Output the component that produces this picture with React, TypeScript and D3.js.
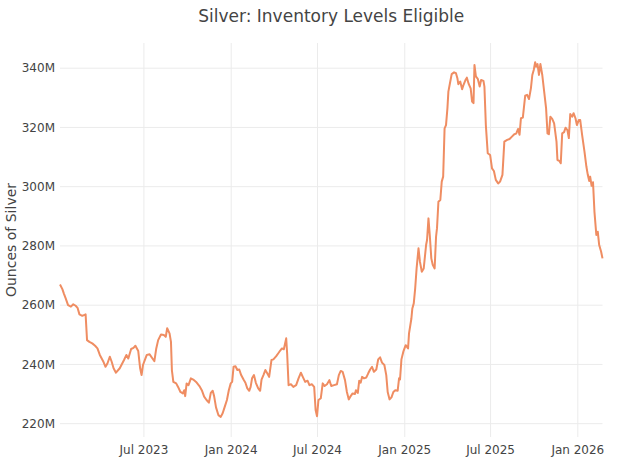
import React, { useRef, useEffect } from 'react';
import * as d3 from 'd3';

// Silver eligible inventory (COMEX), millions of troy ounces
const dates: string[] = [
  '2023-01-05', '2023-01-10', '2023-01-13', '2023-01-17', '2023-01-22', '2023-01-28',
  '2023-02-02', '2023-02-07', '2023-02-11', '2023-02-15', '2023-02-21', '2023-02-28',
  '2023-03-03', '2023-03-08', '2023-03-14', '2023-03-20', '2023-03-25', '2023-03-30',
  '2023-04-06', '2023-04-11', '2023-04-15', '2023-04-20', '2023-04-24', '2023-04-28',
  '2023-05-03', '2023-05-11', '2023-05-20', '2023-05-25', '2023-05-29',
  '2023-06-04', '2023-06-09', '2023-06-13', '2023-06-19', '2023-06-23', '2023-06-26', '2023-06-29',
  '2023-07-03', '2023-07-07', '2023-07-13', '2023-07-19', '2023-07-23', '2023-07-27', '2023-07-31',
  '2023-08-06', '2023-08-12', '2023-08-16', '2023-08-19', '2023-08-24', '2023-08-27', '2023-08-29',
  '2023-09-01', '2023-09-07', '2023-09-11', '2023-09-16', '2023-09-21', '2023-09-24', '2023-09-26', '2023-09-29',
  '2023-10-03', '2023-10-08', '2023-10-13', '2023-10-19', '2023-10-26', '2023-10-31',
  '2023-11-05', '2023-11-10', '2023-11-15', '2023-11-19', '2023-11-23', '2023-11-26', '2023-11-30',
  '2023-12-05', '2023-12-10', '2023-12-14', '2023-12-18', '2023-12-23', '2023-12-27', '2023-12-31',
  '2024-01-03', '2024-01-06', '2024-01-10', '2024-01-14', '2024-01-18', '2024-01-22', '2024-01-27', '2024-01-31',
  '2024-02-04', '2024-02-08', '2024-02-11', '2024-02-14', '2024-02-18', '2024-02-22', '2024-02-27',
  '2024-03-02', '2024-03-05', '2024-03-09', '2024-03-13', '2024-03-17', '2024-03-21', '2024-03-26', '2024-03-30',
  '2024-04-05', '2024-04-09', '2024-04-13', '2024-04-17', '2024-04-21', '2024-04-26', '2024-04-28',
  '2024-05-01', '2024-05-06', '2024-05-11', '2024-05-17', '2024-05-22', '2024-05-27', '2024-05-31',
  '2024-06-05', '2024-06-10', '2024-06-14', '2024-06-19', '2024-06-24', '2024-06-27', '2024-06-30',
  '2024-07-03', '2024-07-08', '2024-07-12', '2024-07-16', '2024-07-21', '2024-07-26', '2024-07-30',
  '2024-08-05', '2024-08-11', '2024-08-15', '2024-08-19', '2024-08-23', '2024-08-28',
  '2024-09-01', '2024-09-05', '2024-09-09', '2024-09-13', '2024-09-18', '2024-09-20', '2024-09-24', '2024-09-27', '2024-09-30',
  '2024-10-03', '2024-10-07', '2024-10-12', '2024-10-16', '2024-10-20', '2024-10-24', '2024-10-28',
  '2024-11-02', '2024-11-06', '2024-11-10', '2024-11-14', '2024-11-19', '2024-11-23', '2024-11-26', '2024-11-30',
  '2024-12-04', '2024-12-08', '2024-12-12', '2024-12-17', '2024-12-20', '2024-12-22', '2024-12-25', '2024-12-29',
  '2025-01-03', '2025-01-08', '2025-01-10', '2025-01-15', '2025-01-17', '2025-01-20', '2025-01-23', '2025-01-26', '2025-01-30',
  '2025-02-02', '2025-02-06', '2025-02-10', '2025-02-15', '2025-02-17', '2025-02-20', '2025-02-23', '2025-02-26',
  '2025-03-01', '2025-03-05', '2025-03-08', '2025-03-10', '2025-03-13', '2025-03-17', '2025-03-20', '2025-03-23', '2025-03-26', '2025-03-29',
  '2025-04-01', '2025-04-03', '2025-04-07', '2025-04-10', '2025-04-15', '2025-04-19', '2025-04-22', '2025-04-24', '2025-04-28',
  '2025-05-02', '2025-05-05', '2025-05-09', '2025-05-12', '2025-05-16', '2025-05-20', '2025-05-23', '2025-05-26', '2025-05-28', '2025-05-31',
  '2025-06-04', '2025-06-08', '2025-06-11', '2025-06-16', '2025-06-18', '2025-06-21', '2025-06-25', '2025-06-30',
  '2025-07-04', '2025-07-08', '2025-07-12', '2025-07-17', '2025-07-21', '2025-07-26', '2025-07-30',
  '2025-08-05', '2025-08-10', '2025-08-15', '2025-08-20', '2025-08-24', '2025-08-28', '2025-08-31',
  '2025-09-03', '2025-09-07', '2025-09-12', '2025-09-16', '2025-09-20', '2025-09-24', '2025-09-27', '2025-09-30',
  '2025-10-03', '2025-10-05', '2025-10-08', '2025-10-11', '2025-10-14', '2025-10-18', '2025-10-22', '2025-10-26', '2025-10-29',
  '2025-11-01', '2025-11-04', '2025-11-08', '2025-11-12', '2025-11-17', '2025-11-19', '2025-11-23', '2025-11-26', '2025-11-29',
  '2025-12-03', '2025-12-06', '2025-12-10', '2025-12-13', '2025-12-16', '2025-12-20', '2025-12-23', '2025-12-27', '2025-12-30',
  '2026-01-03', '2026-01-06', '2026-01-10', '2026-01-15', '2026-01-19', '2026-01-22', '2026-01-25', '2026-01-27', '2026-01-30',
  '2026-02-02', '2026-02-05', '2026-02-09', '2026-02-12', '2026-02-15', '2026-02-19', '2026-02-22',
];

const ounces: number[] = [
  267.0, 265.4, 264.0, 262.3, 260.0, 259.5,
  260.3, 259.8, 259.1, 256.9, 256.4, 256.9,
  248.2, 247.6, 247.1, 246.3, 245.4, 243.2,
  241.1, 239.2, 240.3, 242.6, 240.9, 238.7,
  237.2, 238.7, 241.5, 243.2, 242.0,
  245.2, 245.6, 246.3, 244.5, 238.7, 236.4, 239.8,
  241.5, 243.2, 243.4, 242.0, 241.1, 245.4, 248.2,
  250.1, 249.9, 249.3, 252.2, 250.5, 247.6, 238.0,
  234.1, 233.6, 232.4, 230.7, 230.2, 231.3, 229.3, 233.6,
  233.0, 235.3, 234.9, 234.1, 232.7, 231.3,
  229.1, 228.0, 227.1, 230.4, 231.1, 229.3, 225.5,
  222.9, 222.3, 223.5, 225.5, 228.0, 231.3, 233.6,
  234.1, 239.2, 239.4, 238.1, 238.3, 236.4, 234.9, 233.8,
  231.9, 231.1, 232.4, 235.3, 236.4, 233.8, 231.9,
  231.1, 234.9, 236.4, 238.1, 237.0, 235.8, 241.5, 241.7,
  242.8, 243.7, 244.6, 245.4, 245.1, 248.8, 243.7,
  233.0, 233.3, 232.4, 233.0, 235.3, 237.2, 235.8,
  234.1, 234.5, 233.0, 233.3, 232.4, 224.6, 222.5,
  228.0, 228.6, 233.6, 232.7, 233.3, 234.7, 232.7,
  233.0, 233.3, 236.4, 237.8, 237.5, 234.7,
  230.7, 228.2, 229.3, 230.2, 230.0, 231.3, 230.4, 234.5, 233.8,
  235.8, 235.3, 235.6, 237.0, 238.3, 239.2, 237.5,
  238.3, 241.7, 242.4, 240.6, 239.8, 236.4, 230.7, 228.2,
  228.9, 230.7, 231.3, 231.1, 235.3, 234.9, 241.7, 244.3,
  246.5, 245.4, 250.5, 255.5, 258.9, 260.6, 265.7, 272.4, 279.2,
  274.7, 271.3, 272.4, 280.3, 282.0, 289.3, 283.1, 275.8,
  273.6, 272.4, 283.1, 286.0, 294.9, 295.5, 301.7, 303.4, 319.7, 320.8,
  326.5, 332.1, 335.5, 338.0, 338.6, 338.3, 336.6, 334.6, 335.5,
  332.9, 334.4, 336.0, 336.8, 334.6, 333.2, 328.7, 328.2, 341.1, 337.2,
  336.4, 333.8, 336.0, 335.7, 333.8, 320.8, 311.3, 310.7,
  306.2, 305.3, 302.3, 301.1, 301.7, 304.0, 315.2,
  315.8, 316.1, 316.9, 317.7, 317.9, 319.5, 317.5,
  323.1, 323.3, 330.7, 331.0, 329.6, 333.2, 337.7, 339.4,
  342.0, 340.5, 341.4, 337.7, 341.4, 337.7, 332.1, 326.5, 318.0,
  317.7, 323.6, 322.9, 321.4, 315.2, 309.0, 308.7, 307.9, 318.0,
  318.4, 319.9, 319.1, 316.4, 324.5, 323.6, 324.8, 323.1, 320.8,
  322.5, 322.5, 317.5, 311.8, 306.8, 304.0, 301.9, 303.4, 300.3,
  301.5, 291.6, 283.7, 284.8, 280.3, 278.1, 275.8,
];

const xTicks: string[] = ['2023-07-01', '2024-01-01', '2024-07-01', '2025-01-01', '2025-07-01', '2026-01-01'];
const yTicks: number[] = [220, 240, 260, 280, 300, 320, 340];

const width = 640;
const height = 475;
const margin = { top: 43, right: 37.5, bottom: 38, left: 60 };
const font = 'DejaVu Sans, Verdana, sans-serif';

const App = () => {
  const ref = useRef<SVGSVGElement>(null);

  useEffect(() => {
    const svg = d3.select(ref.current);
    svg.selectAll('*').remove();

    const parse = d3.timeParse('%Y-%m-%d');
    const n = Math.min(dates.length, ounces.length);
    const data = d3.range(n).map((i) => ({ date: parse(dates[i]) as Date, value: ounces[i] }));

    const x = d3
      .scaleUtc()
      .domain(d3.extent(data, (d) => d.date) as [Date, Date])
      .range([margin.left, width - margin.right]);
    const y = d3
      .scaleLinear()
      .domain([215.5, 348.5])
      .range([height - margin.bottom, margin.top]);

    svg.append('rect').attr('width', width).attr('height', height).attr('fill', '#fff');

    // grid
    const grid = svg.append('g').attr('stroke', '#ebebeb').attr('stroke-width', 1);
    grid
      .selectAll('.vgrid')
      .data(xTicks.map((t) => parse(t) as Date))
      .enter()
      .append('line')
      .attr('x1', (d) => x(d))
      .attr('x2', (d) => x(d))
      .attr('y1', margin.top)
      .attr('y2', height - margin.bottom);
    grid
      .selectAll('.hgrid')
      .data(yTicks)
      .enter()
      .append('line')
      .attr('x1', margin.left)
      .attr('x2', width - margin.right)
      .attr('y1', (d) => y(d))
      .attr('y2', (d) => y(d));

    // tick labels
    svg
      .append('g')
      .selectAll('text')
      .data(yTicks)
      .enter()
      .append('text')
      .attr('x', margin.left - 5)
      .attr('y', (d) => y(d))
      .attr('dy', '0.35em')
      .attr('text-anchor', 'end')
      .attr('font-family', font)
      .attr('font-size', 12)
      .attr('fill', '#444')
      .text((d) => `${d}M`);

    const fmt = d3.utcFormat('%b %Y');
    svg
      .append('g')
      .selectAll('text')
      .data(xTicks.map((t) => parse(t) as Date))
      .enter()
      .append('text')
      .attr('x', (d) => x(d))
      .attr('y', height - margin.bottom + 17)
      .attr('text-anchor', 'middle')
      .attr('font-family', font)
      .attr('font-size', 12)
      .attr('fill', '#444')
      .text((d) => fmt(d));

    // series
    const line = d3
      .line<{ date: Date; value: number }>()
      .x((d) => x(d.date))
      .y((d) => y(d.value));
    svg
      .append('path')
      .datum(data)
      .attr('fill', 'none')
      .attr('stroke', '#ef8d62')
      .attr('stroke-width', 2)
      .attr('stroke-linejoin', 'round')
      .attr('d', line);

    // titles
    svg
      .append('text')
      .attr('x', (margin.left + width - margin.right) / 2)
      .attr('y', 22)
      .attr('text-anchor', 'middle')
      .attr('font-family', font)
      .attr('font-size', 17)
      .attr('fill', '#444')
      .text('Silver: Inventory Levels Eligible');

    svg
      .append('text')
      .attr('transform', `translate(16, ${(margin.top + height - margin.bottom) / 2}) rotate(-90)`)
      .attr('text-anchor', 'middle')
      .attr('font-family', font)
      .attr('font-size', 14)
      .attr('fill', '#444')
      .text('Ounces of Silver');
  }, []);

  return (
    <svg
      ref={ref}
      width={width}
      height={height}
      style={{ position: 'absolute', left: 0, top: 0, display: 'block' }}
    ></svg>
  );
};

export default App;
